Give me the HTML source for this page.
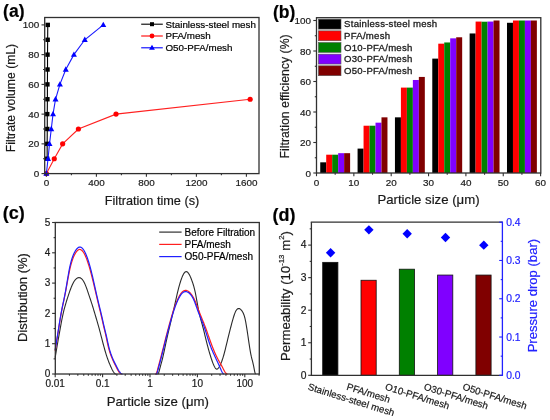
<!DOCTYPE html>
<html><head><meta charset="utf-8"><title>Figure</title>
<style>html,body{margin:0;padding:0;background:#fff;}svg{display:block;font-family:'Liberation Sans', Arial, sans-serif;}</style></head><body>
<svg width="550" height="420" viewBox="0 0 550 420">
<rect width="550" height="420" fill="#fff"/>
<text x="3.10" y="17.00" font-size="17.5" text-anchor="start" fill="#000" font-weight="bold"  stroke="#000" stroke-width="0.2">(a)</text>
<polyline fill="none" stroke="#ff2020" stroke-width="1.1" points="46.40,173.60 54.27,158.73 62.65,143.86 78.40,128.99 116.03,114.12 250.15,99.25"/>
<circle cx="46.40" cy="173.60" r="2.6" fill="#ff0000"/>
<circle cx="54.27" cy="158.73" r="2.6" fill="#ff0000"/>
<circle cx="62.65" cy="143.86" r="2.6" fill="#ff0000"/>
<circle cx="78.40" cy="128.99" r="2.6" fill="#ff0000"/>
<circle cx="116.03" cy="114.12" r="2.6" fill="#ff0000"/>
<circle cx="250.15" cy="99.25" r="2.6" fill="#ff0000"/>
<polyline fill="none" stroke="#000" stroke-width="1.1" points="47.15,158.73 47.15,143.86 47.27,128.99 47.27,114.12 47.40,99.25 47.40,84.38 47.52,69.51 47.52,54.64 47.65,39.77 47.77,24.90"/>
<rect x="44.95" y="156.53" width="4.40" height="4.40" fill="#000" stroke="none" stroke-width="1"/>
<rect x="44.95" y="141.66" width="4.40" height="4.40" fill="#000" stroke="none" stroke-width="1"/>
<rect x="45.07" y="126.79" width="4.40" height="4.40" fill="#000" stroke="none" stroke-width="1"/>
<rect x="45.07" y="111.92" width="4.40" height="4.40" fill="#000" stroke="none" stroke-width="1"/>
<rect x="45.20" y="97.05" width="4.40" height="4.40" fill="#000" stroke="none" stroke-width="1"/>
<rect x="45.20" y="82.18" width="4.40" height="4.40" fill="#000" stroke="none" stroke-width="1"/>
<rect x="45.32" y="67.31" width="4.40" height="4.40" fill="#000" stroke="none" stroke-width="1"/>
<rect x="45.32" y="52.44" width="4.40" height="4.40" fill="#000" stroke="none" stroke-width="1"/>
<rect x="45.45" y="37.57" width="4.40" height="4.40" fill="#000" stroke="none" stroke-width="1"/>
<rect x="45.57" y="22.70" width="4.40" height="4.40" fill="#000" stroke="none" stroke-width="1"/>
<polyline fill="none" stroke="#1a1aff" stroke-width="1.1" points="46.40,173.60 48.02,158.73 49.52,143.86 51.27,128.99 53.02,114.12 55.52,99.25 59.90,84.38 65.78,69.51 73.90,54.64 84.78,39.77 103.28,24.90"/>
<polygon points="46.40,170.40 43.40,175.80 49.40,175.80" fill="#0000ff"/>
<polygon points="48.02,155.53 45.02,160.93 51.02,160.93" fill="#0000ff"/>
<polygon points="49.52,140.66 46.52,146.06 52.52,146.06" fill="#0000ff"/>
<polygon points="51.27,125.79 48.27,131.19 54.27,131.19" fill="#0000ff"/>
<polygon points="53.02,110.92 50.02,116.32 56.02,116.32" fill="#0000ff"/>
<polygon points="55.52,96.05 52.52,101.45 58.52,101.45" fill="#0000ff"/>
<polygon points="59.90,81.18 56.90,86.58 62.90,86.58" fill="#0000ff"/>
<polygon points="65.78,66.31 62.78,71.71 68.78,71.71" fill="#0000ff"/>
<polygon points="73.90,51.44 70.90,56.84 76.90,56.84" fill="#0000ff"/>
<polygon points="84.78,36.57 81.78,41.97 87.78,41.97" fill="#0000ff"/>
<polygon points="103.28,21.70 100.28,27.10 106.28,27.10" fill="#0000ff"/>
<rect x="44.70" y="17.50" width="214.30" height="156.10" fill="none" stroke="#303030" stroke-width="1.3"/>
<line x1="41.50" y1="173.60" x2="44.70" y2="173.60" stroke="#303030" stroke-width="1.1" />
<text x="39.30" y="177.10" font-size="9.9" text-anchor="end" fill="#1a1a1a" font-weight="normal"  stroke="#1a1a1a" stroke-width="0.2">0</text>
<line x1="41.50" y1="143.86" x2="44.70" y2="143.86" stroke="#303030" stroke-width="1.1" />
<text x="39.30" y="147.36" font-size="9.9" text-anchor="end" fill="#1a1a1a" font-weight="normal"  stroke="#1a1a1a" stroke-width="0.2">20</text>
<line x1="41.50" y1="114.12" x2="44.70" y2="114.12" stroke="#303030" stroke-width="1.1" />
<text x="39.30" y="117.62" font-size="9.9" text-anchor="end" fill="#1a1a1a" font-weight="normal"  stroke="#1a1a1a" stroke-width="0.2">40</text>
<line x1="41.50" y1="84.38" x2="44.70" y2="84.38" stroke="#303030" stroke-width="1.1" />
<text x="39.30" y="87.88" font-size="9.9" text-anchor="end" fill="#1a1a1a" font-weight="normal"  stroke="#1a1a1a" stroke-width="0.2">60</text>
<line x1="41.50" y1="54.64" x2="44.70" y2="54.64" stroke="#303030" stroke-width="1.1" />
<text x="39.30" y="58.14" font-size="9.9" text-anchor="end" fill="#1a1a1a" font-weight="normal"  stroke="#1a1a1a" stroke-width="0.2">80</text>
<line x1="41.50" y1="24.90" x2="44.70" y2="24.90" stroke="#303030" stroke-width="1.1" />
<text x="39.30" y="28.40" font-size="9.9" text-anchor="end" fill="#1a1a1a" font-weight="normal"  stroke="#1a1a1a" stroke-width="0.2">100</text>
<line x1="43.00" y1="158.73" x2="44.70" y2="158.73" stroke="#303030" stroke-width="1.1" />
<line x1="43.00" y1="128.99" x2="44.70" y2="128.99" stroke="#303030" stroke-width="1.1" />
<line x1="43.00" y1="99.25" x2="44.70" y2="99.25" stroke="#303030" stroke-width="1.1" />
<line x1="43.00" y1="69.51" x2="44.70" y2="69.51" stroke="#303030" stroke-width="1.1" />
<line x1="43.00" y1="39.77" x2="44.70" y2="39.77" stroke="#303030" stroke-width="1.1" />
<line x1="46.40" y1="173.60" x2="46.40" y2="176.80" stroke="#303030" stroke-width="1.1" />
<text x="46.40" y="186.20" font-size="9.9" text-anchor="middle" fill="#1a1a1a" font-weight="normal"  stroke="#1a1a1a" stroke-width="0.2">0</text>
<line x1="96.40" y1="173.60" x2="96.40" y2="176.80" stroke="#303030" stroke-width="1.1" />
<text x="96.40" y="186.20" font-size="9.9" text-anchor="middle" fill="#1a1a1a" font-weight="normal"  stroke="#1a1a1a" stroke-width="0.2">400</text>
<line x1="146.40" y1="173.60" x2="146.40" y2="176.80" stroke="#303030" stroke-width="1.1" />
<text x="146.40" y="186.20" font-size="9.9" text-anchor="middle" fill="#1a1a1a" font-weight="normal"  stroke="#1a1a1a" stroke-width="0.2">800</text>
<line x1="196.40" y1="173.60" x2="196.40" y2="176.80" stroke="#303030" stroke-width="1.1" />
<text x="196.40" y="186.20" font-size="9.9" text-anchor="middle" fill="#1a1a1a" font-weight="normal"  stroke="#1a1a1a" stroke-width="0.2">1200</text>
<line x1="246.40" y1="173.60" x2="246.40" y2="176.80" stroke="#303030" stroke-width="1.1" />
<text x="246.40" y="186.20" font-size="9.9" text-anchor="middle" fill="#1a1a1a" font-weight="normal"  stroke="#1a1a1a" stroke-width="0.2">1600</text>
<line x1="71.40" y1="173.60" x2="71.40" y2="175.30" stroke="#303030" stroke-width="1.1" />
<line x1="121.40" y1="173.60" x2="121.40" y2="175.30" stroke="#303030" stroke-width="1.1" />
<line x1="171.40" y1="173.60" x2="171.40" y2="175.30" stroke="#303030" stroke-width="1.1" />
<line x1="221.40" y1="173.60" x2="221.40" y2="175.30" stroke="#303030" stroke-width="1.1" />
<text x="152.00" y="204.60" font-size="12.7" text-anchor="middle" fill="#1a1a1a" font-weight="normal"  stroke="#1a1a1a" stroke-width="0.2">Filtration time (s)</text>
<text x="15.00" y="98.00" font-size="12.2" text-anchor="middle" fill="#1a1a1a" font-weight="normal" transform="rotate(-90 15.00 98.00)"  stroke="#1a1a1a" stroke-width="0.2">Filtrate volume (mL)</text>
<line x1="141.20" y1="24.20" x2="162.80" y2="24.20" stroke="#000" stroke-width="1.1" />
<rect x="150.00" y="22.20" width="4.00" height="4.00" fill="#000" stroke="none" stroke-width="1"/>
<text x="165.50" y="27.60" font-size="9.8" text-anchor="start" fill="#000" font-weight="normal"  stroke="#000" stroke-width="0.2">Stainless-steel mesh</text>
<line x1="141.20" y1="36.00" x2="162.80" y2="36.00" stroke="#ff0000" stroke-width="1.1" />
<circle cx="152.0" cy="36.0" r="2.4" fill="#ff0000"/>
<text x="165.50" y="39.40" font-size="9.8" text-anchor="start" fill="#000" font-weight="normal"  stroke="#000" stroke-width="0.2">PFA/mesh</text>
<line x1="141.20" y1="47.80" x2="162.80" y2="47.80" stroke="#0000ff" stroke-width="1.1" />
<polygon points="152.00,44.80 149.10,49.80 154.90,49.80" fill="#0000ff"/>
<text x="165.50" y="51.20" font-size="9.8" text-anchor="start" fill="#000" font-weight="normal"  stroke="#000" stroke-width="0.2">O50-PFA/mesh</text>
<text x="273.00" y="17.60" font-size="17.5" text-anchor="start" fill="#000" font-weight="bold"  stroke="#000" stroke-width="0.2">(b)</text>
<rect x="320.24" y="162.32" width="5.98" height="10.68" fill="#000000" stroke="none" stroke-width="1"/>
<rect x="326.21" y="154.70" width="5.98" height="18.30" fill="#ff0000" stroke="none" stroke-width="1"/>
<rect x="332.19" y="154.70" width="5.98" height="18.30" fill="#008000" stroke="none" stroke-width="1"/>
<rect x="338.16" y="153.18" width="5.98" height="19.82" fill="#8000ff" stroke="none" stroke-width="1"/>
<rect x="344.14" y="153.18" width="5.98" height="19.82" fill="#800000" stroke="none" stroke-width="1"/>
<rect x="357.58" y="148.60" width="5.98" height="24.40" fill="#000000" stroke="none" stroke-width="1"/>
<rect x="363.56" y="125.72" width="5.98" height="47.28" fill="#ff0000" stroke="none" stroke-width="1"/>
<rect x="369.54" y="125.72" width="5.98" height="47.28" fill="#008000" stroke="none" stroke-width="1"/>
<rect x="375.51" y="122.68" width="5.98" height="50.32" fill="#8000ff" stroke="none" stroke-width="1"/>
<rect x="381.49" y="117.34" width="5.98" height="55.66" fill="#800000" stroke="none" stroke-width="1"/>
<rect x="394.94" y="117.34" width="5.98" height="55.66" fill="#000000" stroke="none" stroke-width="1"/>
<rect x="400.91" y="87.60" width="5.98" height="85.40" fill="#ff0000" stroke="none" stroke-width="1"/>
<rect x="406.89" y="87.60" width="5.98" height="85.40" fill="#008000" stroke="none" stroke-width="1"/>
<rect x="412.86" y="79.98" width="5.98" height="93.02" fill="#8000ff" stroke="none" stroke-width="1"/>
<rect x="418.84" y="76.93" width="5.98" height="96.07" fill="#800000" stroke="none" stroke-width="1"/>
<rect x="432.28" y="58.62" width="5.98" height="114.38" fill="#000000" stroke="none" stroke-width="1"/>
<rect x="438.26" y="43.68" width="5.98" height="129.32" fill="#ff0000" stroke="none" stroke-width="1"/>
<rect x="444.24" y="42.46" width="5.98" height="130.54" fill="#008000" stroke="none" stroke-width="1"/>
<rect x="450.21" y="38.34" width="5.98" height="134.66" fill="#8000ff" stroke="none" stroke-width="1"/>
<rect x="456.19" y="37.28" width="5.98" height="135.72" fill="#800000" stroke="none" stroke-width="1"/>
<rect x="469.63" y="33.46" width="5.98" height="139.54" fill="#000000" stroke="none" stroke-width="1"/>
<rect x="475.61" y="21.57" width="5.98" height="151.43" fill="#ff0000" stroke="none" stroke-width="1"/>
<rect x="481.59" y="21.72" width="5.98" height="151.28" fill="#008000" stroke="none" stroke-width="1"/>
<rect x="487.56" y="21.57" width="5.98" height="151.43" fill="#8000ff" stroke="none" stroke-width="1"/>
<rect x="493.54" y="20.50" width="5.98" height="152.50" fill="#800000" stroke="none" stroke-width="1"/>
<rect x="506.99" y="22.79" width="5.98" height="150.21" fill="#000000" stroke="none" stroke-width="1"/>
<rect x="512.96" y="20.50" width="5.98" height="152.50" fill="#ff0000" stroke="none" stroke-width="1"/>
<rect x="518.94" y="20.50" width="5.98" height="152.50" fill="#008000" stroke="none" stroke-width="1"/>
<rect x="524.91" y="20.50" width="5.98" height="152.50" fill="#8000ff" stroke="none" stroke-width="1"/>
<rect x="530.89" y="20.50" width="5.98" height="152.50" fill="#800000" stroke="none" stroke-width="1"/>
<rect x="316.50" y="17.70" width="224.30" height="155.30" fill="none" stroke="#303030" stroke-width="1.3"/>
<line x1="313.30" y1="173.00" x2="316.50" y2="173.00" stroke="#303030" stroke-width="1.1" />
<text x="311.10" y="176.50" font-size="9.9" text-anchor="end" fill="#1a1a1a" font-weight="normal"  stroke="#1a1a1a" stroke-width="0.2">0</text>
<line x1="313.30" y1="142.50" x2="316.50" y2="142.50" stroke="#303030" stroke-width="1.1" />
<text x="311.10" y="146.00" font-size="9.9" text-anchor="end" fill="#1a1a1a" font-weight="normal"  stroke="#1a1a1a" stroke-width="0.2">20</text>
<line x1="313.30" y1="112.00" x2="316.50" y2="112.00" stroke="#303030" stroke-width="1.1" />
<text x="311.10" y="115.50" font-size="9.9" text-anchor="end" fill="#1a1a1a" font-weight="normal"  stroke="#1a1a1a" stroke-width="0.2">40</text>
<line x1="313.30" y1="81.50" x2="316.50" y2="81.50" stroke="#303030" stroke-width="1.1" />
<text x="311.10" y="85.00" font-size="9.9" text-anchor="end" fill="#1a1a1a" font-weight="normal"  stroke="#1a1a1a" stroke-width="0.2">60</text>
<line x1="313.30" y1="51.00" x2="316.50" y2="51.00" stroke="#303030" stroke-width="1.1" />
<text x="311.10" y="54.50" font-size="9.9" text-anchor="end" fill="#1a1a1a" font-weight="normal"  stroke="#1a1a1a" stroke-width="0.2">80</text>
<line x1="313.30" y1="20.50" x2="316.50" y2="20.50" stroke="#303030" stroke-width="1.1" />
<text x="311.10" y="24.00" font-size="9.9" text-anchor="end" fill="#1a1a1a" font-weight="normal"  stroke="#1a1a1a" stroke-width="0.2">100</text>
<line x1="314.80" y1="157.75" x2="316.50" y2="157.75" stroke="#303030" stroke-width="1.1" />
<line x1="314.80" y1="127.25" x2="316.50" y2="127.25" stroke="#303030" stroke-width="1.1" />
<line x1="314.80" y1="96.75" x2="316.50" y2="96.75" stroke="#303030" stroke-width="1.1" />
<line x1="314.80" y1="66.25" x2="316.50" y2="66.25" stroke="#303030" stroke-width="1.1" />
<line x1="314.80" y1="35.75" x2="316.50" y2="35.75" stroke="#303030" stroke-width="1.1" />
<line x1="316.50" y1="173.00" x2="316.50" y2="176.20" stroke="#303030" stroke-width="1.1" />
<text x="316.50" y="185.60" font-size="9.9" text-anchor="middle" fill="#1a1a1a" font-weight="normal"  stroke="#1a1a1a" stroke-width="0.2">0</text>
<line x1="353.85" y1="173.00" x2="353.85" y2="176.20" stroke="#303030" stroke-width="1.1" />
<text x="353.85" y="185.60" font-size="9.9" text-anchor="middle" fill="#1a1a1a" font-weight="normal"  stroke="#1a1a1a" stroke-width="0.2">10</text>
<line x1="391.20" y1="173.00" x2="391.20" y2="176.20" stroke="#303030" stroke-width="1.1" />
<text x="391.20" y="185.60" font-size="9.9" text-anchor="middle" fill="#1a1a1a" font-weight="normal"  stroke="#1a1a1a" stroke-width="0.2">20</text>
<line x1="428.55" y1="173.00" x2="428.55" y2="176.20" stroke="#303030" stroke-width="1.1" />
<text x="428.55" y="185.60" font-size="9.9" text-anchor="middle" fill="#1a1a1a" font-weight="normal"  stroke="#1a1a1a" stroke-width="0.2">30</text>
<line x1="465.90" y1="173.00" x2="465.90" y2="176.20" stroke="#303030" stroke-width="1.1" />
<text x="465.90" y="185.60" font-size="9.9" text-anchor="middle" fill="#1a1a1a" font-weight="normal"  stroke="#1a1a1a" stroke-width="0.2">40</text>
<line x1="503.25" y1="173.00" x2="503.25" y2="176.20" stroke="#303030" stroke-width="1.1" />
<text x="503.25" y="185.60" font-size="9.9" text-anchor="middle" fill="#1a1a1a" font-weight="normal"  stroke="#1a1a1a" stroke-width="0.2">50</text>
<line x1="540.60" y1="173.00" x2="540.60" y2="176.20" stroke="#303030" stroke-width="1.1" />
<text x="540.60" y="185.60" font-size="9.9" text-anchor="middle" fill="#1a1a1a" font-weight="normal"  stroke="#1a1a1a" stroke-width="0.2">60</text>
<line x1="335.18" y1="173.00" x2="335.18" y2="174.70" stroke="#303030" stroke-width="1.1" />
<line x1="372.52" y1="173.00" x2="372.52" y2="174.70" stroke="#303030" stroke-width="1.1" />
<line x1="409.88" y1="173.00" x2="409.88" y2="174.70" stroke="#303030" stroke-width="1.1" />
<line x1="447.23" y1="173.00" x2="447.23" y2="174.70" stroke="#303030" stroke-width="1.1" />
<line x1="484.57" y1="173.00" x2="484.57" y2="174.70" stroke="#303030" stroke-width="1.1" />
<line x1="521.92" y1="173.00" x2="521.92" y2="174.70" stroke="#303030" stroke-width="1.1" />
<text x="428.50" y="204.00" font-size="13.2" text-anchor="middle" fill="#1a1a1a" font-weight="normal"  stroke="#1a1a1a" stroke-width="0.2">Particle size (μm)</text>
<text x="288.90" y="96.40" font-size="12.3" text-anchor="middle" fill="#1a1a1a" font-weight="normal" transform="rotate(-90 288.90 96.40)"  stroke="#1a1a1a" stroke-width="0.2">Filtration efficiency (%)</text>
<rect x="318.40" y="19.20" width="22.60" height="9.90" fill="#000000" stroke="#555" stroke-width="0.6"/>
<text x="344.10" y="27.20" font-size="9.6" text-anchor="start" fill="#1a1a1a" font-weight="normal" letter-spacing="0.24" stroke="#1a1a1a" stroke-width="0.3">Stainless-steel mesh</text>
<rect x="318.40" y="30.85" width="22.60" height="9.90" fill="#ff0000" stroke="#555" stroke-width="0.6"/>
<text x="344.10" y="38.85" font-size="9.6" text-anchor="start" fill="#1a1a1a" font-weight="normal" letter-spacing="0.24" stroke="#1a1a1a" stroke-width="0.3">PFA/mesh</text>
<rect x="318.40" y="42.50" width="22.60" height="9.90" fill="#008000" stroke="#555" stroke-width="0.6"/>
<text x="344.10" y="50.50" font-size="9.6" text-anchor="start" fill="#1a1a1a" font-weight="normal" letter-spacing="0.24" stroke="#1a1a1a" stroke-width="0.3">O10-PFA/mesh</text>
<rect x="318.40" y="54.15" width="22.60" height="9.90" fill="#8000ff" stroke="#555" stroke-width="0.6"/>
<text x="344.10" y="62.15" font-size="9.6" text-anchor="start" fill="#1a1a1a" font-weight="normal" letter-spacing="0.24" stroke="#1a1a1a" stroke-width="0.3">O30-PFA/mesh</text>
<rect x="318.40" y="65.80" width="22.60" height="9.90" fill="#800000" stroke="#555" stroke-width="0.6"/>
<text x="344.10" y="73.80" font-size="9.6" text-anchor="start" fill="#1a1a1a" font-weight="normal" letter-spacing="0.24" stroke="#1a1a1a" stroke-width="0.3">O50-PFA/mesh</text>
<text x="2.80" y="218.80" font-size="18" text-anchor="start" fill="#000" font-weight="bold"  stroke="#000" stroke-width="0.2">(c)</text>
<path d="M55.20,357.33 L55.70,354.36 L56.20,351.40 L56.70,348.45 L57.20,345.51 L57.70,342.60 L58.20,339.73 L58.70,336.88 L59.20,334.08 L59.70,331.30 L60.20,328.55 L60.70,325.82 L61.20,323.12 L61.70,320.48 L62.20,317.93 L62.70,315.52 L63.20,313.28 L63.70,311.18 L64.20,309.22 L64.70,307.35 L65.20,305.57 L65.70,303.84 L66.20,302.16 L66.70,300.52 L67.20,298.92 L67.70,297.35 L68.20,295.82 L68.70,294.32 L69.20,292.86 L69.70,291.43 L70.20,290.04 L70.70,288.70 L71.20,287.42 L71.70,286.21 L72.20,285.05 L72.70,283.97 L73.20,282.98 L73.70,282.06 L74.20,281.24 L74.70,280.50 L75.20,279.85 L75.70,279.29 L76.20,278.82 L76.70,278.43 L77.20,278.12 L77.70,277.89 L78.20,277.73 L78.70,277.65 L79.20,277.65 L79.70,277.72 L80.20,277.87 L80.70,278.11 L81.20,278.43 L81.70,278.85 L82.20,279.37 L82.70,279.98 L83.20,280.70 L83.70,281.53 L84.20,282.46 L84.70,283.51 L85.20,284.65 L85.70,285.88 L86.20,287.17 L86.70,288.53 L87.20,289.93 L87.70,291.38 L88.20,292.85 L88.70,294.33 L89.20,295.81 L89.70,297.30 L90.20,298.78 L90.70,300.28 L91.20,301.80 L91.70,303.33 L92.20,304.90 L92.70,306.50 L93.20,308.14 L93.70,309.79 L94.20,311.47 L94.70,313.15 L95.20,314.84 L95.70,316.53 L96.20,318.22 L96.70,319.92 L97.20,321.63 L97.70,323.36 L98.20,325.11 L98.70,326.90 L99.20,328.72 L99.70,330.58 L100.20,332.46 L100.70,334.37 L101.20,336.29 L101.70,338.23 L102.20,340.17 L102.70,342.10 L103.20,344.01 L103.70,345.89 L104.20,347.73 L104.70,349.52 L105.20,351.26 L105.70,352.94 L106.20,354.57 L106.70,356.12 L107.20,357.61 L107.70,359.03 L108.20,360.39 L108.70,361.69 L109.20,362.94 L109.70,364.15 L110.20,365.32 L110.70,366.45 L111.20,367.55 L111.70,368.63 L112.20,369.66 L112.70,370.62 L113.20,371.50 L113.70,372.28 L114.20,372.94 L114.70,373.45 L115.20,373.81 L115.70,373.98 M157.80,374.00 L158.30,373.54 L158.80,372.35 L159.30,370.66 L159.80,368.72 L160.30,366.79 L160.80,364.94 L161.30,363.11 L161.80,361.27 L162.30,359.35 L162.80,357.31 L163.30,355.14 L163.80,352.88 L164.30,350.54 L164.80,348.17 L165.30,345.79 L165.80,343.42 L166.30,341.10 L166.80,338.84 L167.30,336.62 L167.80,334.44 L168.30,332.30 L168.80,330.18 L169.30,328.09 L169.80,326.01 L170.30,323.95 L170.80,321.88 L171.30,319.80 L171.80,317.71 L172.30,315.60 L172.80,313.46 L173.30,311.28 L173.80,309.06 L174.30,306.81 L174.80,304.54 L175.30,302.27 L175.80,300.01 L176.30,297.78 L176.80,295.58 L177.30,293.44 L177.80,291.37 L178.30,289.37 L178.80,287.46 L179.30,285.63 L179.80,283.88 L180.30,282.23 L180.80,280.67 L181.30,279.20 L181.80,277.84 L182.30,276.59 L182.80,275.46 L183.30,274.46 L183.80,273.59 L184.30,272.87 L184.80,272.30 L185.30,271.89 L185.80,271.65 L186.30,271.59 L186.80,271.70 L187.30,271.99 L187.80,272.44 L188.30,273.03 L188.80,273.76 L189.30,274.61 L189.80,275.57 L190.30,276.64 L190.80,277.80 L191.30,279.03 L191.80,280.34 L192.30,281.70 L192.80,283.16 L193.30,284.73 L193.80,286.44 L194.30,288.32 L194.80,290.38 L195.30,292.66 L195.80,295.16 L196.30,297.82 L196.80,300.57 L197.30,303.35 L197.80,306.11 L198.30,308.77 L198.80,311.28 L199.30,313.58 L199.80,315.71 L200.30,317.69 L200.80,319.57 L201.30,321.38 L201.80,323.17 L202.30,324.96 L202.80,326.80 L203.30,328.72 L203.80,330.69 L204.30,332.71 L204.80,334.76 L205.30,336.81 L205.80,338.86 L206.30,340.89 L206.80,342.88 L207.30,344.82 L207.80,346.71 L208.30,348.55 L208.80,350.34 L209.30,352.08 L209.80,353.77 L210.30,355.41 L210.80,357.00 L211.30,358.55 L211.80,360.04 L212.30,361.47 L212.80,362.83 L213.30,364.10 L213.80,365.27 L214.30,366.32 L214.80,367.25 L215.30,368.03 L215.80,368.62 L216.30,369.00 L216.80,369.15 L217.30,369.05 L217.80,368.71 L218.30,368.18 L218.80,367.49 L219.30,366.67 L219.80,365.74 L220.30,364.74 L220.80,363.65 L221.30,362.47 L221.80,361.19 L222.30,359.80 L222.80,358.31 L223.30,356.70 L223.80,354.98 L224.30,353.15 L224.80,351.25 L225.30,349.27 L225.80,347.24 L226.30,345.18 L226.80,343.10 L227.30,341.01 L227.80,338.93 L228.30,336.88 L228.80,334.85 L229.30,332.85 L229.80,330.87 L230.30,328.91 L230.80,326.99 L231.30,325.09 L231.80,323.23 L232.30,321.39 L232.80,319.60 L233.30,317.88 L233.80,316.25 L234.30,314.73 L234.80,313.35 L235.30,312.13 L235.80,311.09 L236.30,310.24 L236.80,309.57 L237.30,309.08 L237.80,308.76 L238.30,308.58 L238.80,308.53 L239.30,308.62 L239.80,308.82 L240.30,309.13 L240.80,309.55 L241.30,310.08 L241.80,310.71 L242.30,311.43 L242.80,312.26 L243.30,313.25 L243.80,314.46 L244.30,315.93 L244.80,317.73 L245.30,319.90 L245.80,322.44 L246.30,325.28 L246.80,328.36 L247.30,331.61 L247.80,334.98 L248.30,338.40 L248.80,341.81 L249.30,345.15 L249.80,348.34 L250.30,351.32 L250.80,354.04 L251.30,356.43 L251.80,358.52 L252.30,360.45 L252.80,362.40 L253.30,364.51 L253.80,366.95 L254.30,369.65 L254.80,372.10 L255.30,373.70 " fill="none" stroke="#2a2a2a" stroke-width="1.1" stroke-linejoin="round" stroke-linecap="round"/>
<path d="M55.20,350.37 L55.70,347.29 L56.20,344.20 L56.70,341.09 L57.20,337.94 L57.70,334.76 L58.20,331.56 L58.70,328.37 L59.20,325.19 L59.70,322.06 L60.20,319.02 L60.70,316.09 L61.20,313.31 L61.70,310.66 L62.20,308.13 L62.70,305.70 L63.20,303.33 L63.70,300.99 L64.20,298.63 L64.70,296.21 L65.20,293.69 L65.70,291.06 L66.20,288.36 L66.70,285.61 L67.20,282.85 L67.70,280.10 L68.20,277.41 L68.70,274.79 L69.20,272.28 L69.70,269.92 L70.20,267.72 L70.70,265.70 L71.20,263.83 L71.70,262.12 L72.20,260.55 L72.70,259.12 L73.20,257.80 L73.70,256.60 L74.20,255.51 L74.70,254.51 L75.20,253.59 L75.70,252.76 L76.20,252.01 L76.70,251.36 L77.20,250.79 L77.70,250.33 L78.20,249.96 L78.70,249.69 L79.20,249.52 L79.70,249.46 L80.20,249.51 L80.70,249.67 L81.20,249.93 L81.70,250.29 L82.20,250.75 L82.70,251.31 L83.20,251.97 L83.70,252.72 L84.20,253.57 L84.70,254.51 L85.20,255.54 L85.70,256.66 L86.20,257.86 L86.70,259.14 L87.20,260.50 L87.70,261.94 L88.20,263.45 L88.70,265.04 L89.20,266.69 L89.70,268.40 L90.20,270.18 L90.70,272.02 L91.20,273.91 L91.70,275.85 L92.20,277.83 L92.70,279.84 L93.20,281.89 L93.70,283.96 L94.20,286.04 L94.70,288.15 L95.20,290.28 L95.70,292.42 L96.20,294.57 L96.70,296.72 L97.20,298.88 L97.70,301.02 L98.20,303.14 L98.70,305.22 L99.20,307.26 L99.70,309.29 L100.20,311.33 L100.70,313.40 L101.20,315.52 L101.70,317.72 L102.20,319.96 L102.70,322.21 L103.20,324.41 L103.70,326.54 L104.20,328.59 L104.70,330.59 L105.20,332.63 L105.70,334.77 L106.20,337.06 L106.70,339.44 L107.20,341.85 L107.70,344.19 L108.20,346.37 L108.70,348.35 L109.20,350.16 L109.70,351.81 L110.20,353.34 L110.70,354.75 L111.20,356.08 L111.70,357.34 L112.20,358.55 L112.70,359.71 L113.20,360.82 L113.70,361.90 L114.20,362.95 L114.70,363.98 L115.20,365.01 L115.70,366.02 L116.20,367.04 L116.70,368.04 L117.20,369.00 L117.70,369.93 L118.20,370.79 L118.70,371.59 L119.20,372.29 L119.70,372.89 L120.20,373.38 L120.70,373.74 L121.20,373.95 M155.70,374.00 L156.20,373.59 L156.70,372.51 L157.20,370.94 L157.70,369.10 L158.20,367.17 L158.70,365.28 L159.20,363.41 L159.70,361.55 L160.20,359.68 L160.70,357.79 L161.20,355.87 L161.70,353.93 L162.20,351.97 L162.70,350.00 L163.20,348.03 L163.70,346.04 L164.20,344.07 L164.70,342.09 L165.20,340.13 L165.70,338.19 L166.20,336.25 L166.70,334.33 L167.20,332.42 L167.70,330.53 L168.20,328.66 L168.70,326.80 L169.20,324.96 L169.70,323.14 L170.20,321.35 L170.70,319.58 L171.20,317.84 L171.70,316.14 L172.20,314.48 L172.70,312.86 L173.20,311.28 L173.70,309.75 L174.20,308.27 L174.70,306.84 L175.20,305.46 L175.70,304.12 L176.20,302.85 L176.70,301.62 L177.20,300.44 L177.70,299.32 L178.20,298.26 L178.70,297.25 L179.20,296.30 L179.70,295.42 L180.20,294.60 L180.70,293.85 L181.20,293.17 L181.70,292.56 L182.20,292.03 L182.70,291.58 L183.20,291.19 L183.70,290.89 L184.20,290.65 L184.70,290.49 L185.20,290.39 L185.70,290.37 L186.20,290.42 L186.70,290.54 L187.20,290.72 L187.70,290.96 L188.20,291.26 L188.70,291.62 L189.20,292.03 L189.70,292.50 L190.20,293.01 L190.70,293.56 L191.20,294.17 L191.70,294.84 L192.20,295.56 L192.70,296.35 L193.20,297.20 L193.70,298.13 L194.20,299.13 L194.70,300.21 L195.20,301.36 L195.70,302.58 L196.20,303.84 L196.70,305.15 L197.20,306.48 L197.70,307.82 L198.20,309.16 L198.70,310.49 L199.20,311.80 L199.70,313.07 L200.20,314.32 L200.70,315.55 L201.20,316.77 L201.70,317.98 L202.20,319.19 L202.70,320.40 L203.20,321.62 L203.70,322.85 L204.20,324.10 L204.70,325.38 L205.20,326.69 L205.70,328.04 L206.20,329.41 L206.70,330.81 L207.20,332.23 L207.70,333.66 L208.20,335.10 L208.70,336.54 L209.20,337.98 L209.70,339.40 L210.20,340.82 L210.70,342.21 L211.20,343.58 L211.70,344.92 L212.20,346.24 L212.70,347.53 L213.20,348.79 L213.70,350.02 L214.20,351.22 L214.70,352.39 L215.20,353.53 L215.70,354.64 L216.20,355.71 L216.70,356.75 L217.20,357.76 L217.70,358.74 L218.20,359.68 L218.70,360.60 L219.20,361.49 L219.70,362.38 L220.20,363.25 L220.70,364.13 L221.20,365.01 L221.70,365.90 L222.20,366.81 L222.70,367.75 L223.20,368.72 L223.70,369.69 L224.20,370.64 L224.70,371.53 L225.20,372.33 L225.70,373.01 L226.20,373.54 L226.70,373.88 L227.20,374.00 " fill="none" stroke="#ff2020" stroke-width="1.2" stroke-linejoin="round" stroke-linecap="round"/>
<path d="M55.20,349.76 L55.70,346.67 L56.20,343.58 L56.70,340.46 L57.20,337.31 L57.70,334.12 L58.20,330.92 L58.70,327.73 L59.20,324.56 L59.70,321.45 L60.20,318.43 L60.70,315.52 L61.20,312.76 L61.70,310.14 L62.20,307.63 L62.70,305.22 L63.20,302.89 L63.70,300.57 L64.20,298.21 L64.70,295.73 L65.20,293.09 L65.70,290.30 L66.20,287.39 L66.70,284.41 L67.20,281.40 L67.70,278.41 L68.20,275.48 L68.70,272.65 L69.20,269.97 L69.70,267.47 L70.20,265.18 L70.70,263.10 L71.20,261.20 L71.70,259.49 L72.20,257.93 L72.70,256.52 L73.20,255.24 L73.70,254.09 L74.20,253.03 L74.70,252.07 L75.20,251.19 L75.70,250.38 L76.20,249.66 L76.70,249.01 L77.20,248.45 L77.70,247.98 L78.20,247.61 L78.70,247.32 L79.20,247.13 L79.70,247.05 L80.20,247.06 L80.70,247.18 L81.20,247.41 L81.70,247.73 L82.20,248.15 L82.70,248.67 L83.20,249.29 L83.70,250.00 L84.20,250.80 L84.70,251.70 L85.20,252.69 L85.70,253.77 L86.20,254.94 L86.70,256.19 L87.20,257.52 L87.70,258.94 L88.20,260.44 L88.70,262.02 L89.20,263.68 L89.70,265.41 L90.20,267.21 L90.70,269.08 L91.20,271.02 L91.70,273.03 L92.20,275.09 L92.70,277.20 L93.20,279.36 L93.70,281.56 L94.20,283.79 L94.70,286.05 L95.20,288.31 L95.70,290.57 L96.20,292.81 L96.70,295.03 L97.20,297.21 L97.70,299.36 L98.20,301.48 L98.70,303.57 L99.20,305.63 L99.70,307.66 L100.20,309.69 L100.70,311.73 L101.20,313.81 L101.70,315.96 L102.20,318.16 L102.70,320.40 L103.20,322.64 L103.70,324.84 L104.20,326.97 L104.70,329.02 L105.20,331.04 L105.70,333.09 L106.20,335.22 L106.70,337.44 L107.20,339.73 L107.70,342.02 L108.20,344.24 L108.70,346.34 L109.20,348.28 L109.70,350.08 L110.20,351.74 L110.70,353.29 L111.20,354.73 L111.70,356.08 L112.20,357.36 L112.70,358.56 L113.20,359.70 L113.70,360.80 L114.20,361.85 L114.70,362.87 L115.20,363.86 L115.70,364.84 L116.20,365.82 L116.70,366.80 L117.20,367.76 L117.70,368.71 L118.20,369.62 L118.70,370.48 L119.20,371.27 L119.70,371.99 L120.20,372.62 L120.70,373.15 L121.20,373.57 L121.70,373.85 L122.20,373.99 M156.30,374.00 L156.80,373.55 L157.30,372.36 L157.80,370.67 L158.30,368.73 L158.80,366.77 L159.30,364.87 L159.80,363.01 L160.30,361.17 L160.80,359.30 L161.30,357.40 L161.80,355.45 L162.30,353.45 L162.80,351.44 L163.30,349.40 L163.80,347.36 L164.30,345.32 L164.80,343.29 L165.30,341.29 L165.80,339.31 L166.30,337.36 L166.80,335.43 L167.30,333.53 L167.80,331.64 L168.30,329.76 L168.80,327.91 L169.30,326.06 L169.80,324.23 L170.30,322.41 L170.80,320.62 L171.30,318.86 L171.80,317.13 L172.30,315.44 L172.80,313.80 L173.30,312.21 L173.80,310.67 L174.30,309.19 L174.80,307.77 L175.30,306.41 L175.80,305.10 L176.30,303.84 L176.80,302.64 L177.30,301.48 L177.80,300.37 L178.30,299.31 L178.80,298.30 L179.30,297.35 L179.80,296.45 L180.30,295.63 L180.80,294.87 L181.30,294.19 L181.80,293.59 L182.30,293.08 L182.80,292.64 L183.30,292.29 L183.80,292.01 L184.30,291.80 L184.80,291.66 L185.30,291.59 L185.80,291.59 L186.30,291.64 L186.80,291.76 L187.30,291.94 L187.80,292.18 L188.30,292.47 L188.80,292.83 L189.30,293.24 L189.80,293.70 L190.30,294.23 L190.80,294.81 L191.30,295.46 L191.80,296.18 L192.30,296.98 L192.80,297.87 L193.30,298.84 L193.80,299.91 L194.30,301.09 L194.80,302.35 L195.30,303.68 L195.80,305.07 L196.30,306.49 L196.80,307.92 L197.30,309.34 L197.80,310.73 L198.30,312.08 L198.80,313.38 L199.30,314.64 L199.80,315.87 L200.30,317.08 L200.80,318.28 L201.30,319.48 L201.80,320.70 L202.30,321.93 L202.80,323.20 L203.30,324.51 L203.80,325.87 L204.30,327.29 L204.80,328.77 L205.30,330.30 L205.80,331.86 L206.30,333.44 L206.80,335.04 L207.30,336.63 L207.80,338.22 L208.30,339.78 L208.80,341.30 L209.30,342.78 L209.80,344.20 L210.30,345.57 L210.80,346.89 L211.30,348.17 L211.80,349.40 L212.30,350.60 L212.80,351.77 L213.30,352.91 L213.80,354.03 L214.30,355.12 L214.80,356.21 L215.30,357.27 L215.80,358.34 L216.30,359.39 L216.80,360.45 L217.30,361.51 L217.80,362.58 L218.30,363.66 L218.80,364.76 L219.30,365.87 L219.80,367.01 L220.30,368.18 L220.80,369.35 L221.30,370.50 L221.80,371.57 L222.30,372.50 L222.80,373.25 L223.30,373.76 L223.80,373.99 " fill="none" stroke="#2020ff" stroke-width="1.2" stroke-linejoin="round" stroke-linecap="round"/>
<rect x="55.30" y="222.50" width="204.00" height="151.50" fill="none" stroke="#303030" stroke-width="1.3"/>
<line x1="52.10" y1="374.00" x2="55.30" y2="374.00" stroke="#303030" stroke-width="1.1" />
<text x="50.30" y="377.30" font-size="10" text-anchor="end" fill="#1a1a1a" font-weight="normal"  stroke="#1a1a1a" stroke-width="0.2">0</text>
<line x1="52.10" y1="343.70" x2="55.30" y2="343.70" stroke="#303030" stroke-width="1.1" />
<text x="50.30" y="347.00" font-size="10" text-anchor="end" fill="#1a1a1a" font-weight="normal"  stroke="#1a1a1a" stroke-width="0.2">1</text>
<line x1="52.10" y1="313.40" x2="55.30" y2="313.40" stroke="#303030" stroke-width="1.1" />
<text x="50.30" y="316.70" font-size="10" text-anchor="end" fill="#1a1a1a" font-weight="normal"  stroke="#1a1a1a" stroke-width="0.2">2</text>
<line x1="52.10" y1="283.10" x2="55.30" y2="283.10" stroke="#303030" stroke-width="1.1" />
<text x="50.30" y="286.40" font-size="10" text-anchor="end" fill="#1a1a1a" font-weight="normal"  stroke="#1a1a1a" stroke-width="0.2">3</text>
<line x1="52.10" y1="252.80" x2="55.30" y2="252.80" stroke="#303030" stroke-width="1.1" />
<text x="50.30" y="256.10" font-size="10" text-anchor="end" fill="#1a1a1a" font-weight="normal"  stroke="#1a1a1a" stroke-width="0.2">4</text>
<line x1="52.10" y1="222.50" x2="55.30" y2="222.50" stroke="#303030" stroke-width="1.1" />
<text x="50.30" y="225.80" font-size="10" text-anchor="end" fill="#1a1a1a" font-weight="normal"  stroke="#1a1a1a" stroke-width="0.2">5</text>
<line x1="53.60" y1="358.85" x2="55.30" y2="358.85" stroke="#303030" stroke-width="1.1" />
<line x1="53.60" y1="328.55" x2="55.30" y2="328.55" stroke="#303030" stroke-width="1.1" />
<line x1="53.60" y1="298.25" x2="55.30" y2="298.25" stroke="#303030" stroke-width="1.1" />
<line x1="53.60" y1="267.95" x2="55.30" y2="267.95" stroke="#303030" stroke-width="1.1" />
<line x1="53.60" y1="237.65" x2="55.30" y2="237.65" stroke="#303030" stroke-width="1.1" />
<line x1="55.20" y1="374.00" x2="55.20" y2="377.20" stroke="#303030" stroke-width="1.1" />
<text x="55.20" y="386.60" font-size="10" text-anchor="middle" fill="#1a1a1a" font-weight="normal"  stroke="#1a1a1a" stroke-width="0.2">0.01</text>
<line x1="69.47" y1="374.00" x2="69.47" y2="375.70" stroke="#303030" stroke-width="1.1" />
<line x1="77.82" y1="374.00" x2="77.82" y2="375.70" stroke="#303030" stroke-width="1.1" />
<line x1="83.74" y1="374.00" x2="83.74" y2="375.70" stroke="#303030" stroke-width="1.1" />
<line x1="88.33" y1="374.00" x2="88.33" y2="375.70" stroke="#303030" stroke-width="1.1" />
<line x1="92.08" y1="374.00" x2="92.08" y2="375.70" stroke="#303030" stroke-width="1.1" />
<line x1="95.26" y1="374.00" x2="95.26" y2="375.70" stroke="#303030" stroke-width="1.1" />
<line x1="98.01" y1="374.00" x2="98.01" y2="375.70" stroke="#303030" stroke-width="1.1" />
<line x1="100.43" y1="374.00" x2="100.43" y2="375.70" stroke="#303030" stroke-width="1.1" />
<line x1="102.60" y1="374.00" x2="102.60" y2="377.20" stroke="#303030" stroke-width="1.1" />
<text x="102.60" y="386.60" font-size="10" text-anchor="middle" fill="#1a1a1a" font-weight="normal"  stroke="#1a1a1a" stroke-width="0.2">0.1</text>
<line x1="116.87" y1="374.00" x2="116.87" y2="375.70" stroke="#303030" stroke-width="1.1" />
<line x1="125.22" y1="374.00" x2="125.22" y2="375.70" stroke="#303030" stroke-width="1.1" />
<line x1="131.14" y1="374.00" x2="131.14" y2="375.70" stroke="#303030" stroke-width="1.1" />
<line x1="135.73" y1="374.00" x2="135.73" y2="375.70" stroke="#303030" stroke-width="1.1" />
<line x1="139.48" y1="374.00" x2="139.48" y2="375.70" stroke="#303030" stroke-width="1.1" />
<line x1="142.66" y1="374.00" x2="142.66" y2="375.70" stroke="#303030" stroke-width="1.1" />
<line x1="145.41" y1="374.00" x2="145.41" y2="375.70" stroke="#303030" stroke-width="1.1" />
<line x1="147.83" y1="374.00" x2="147.83" y2="375.70" stroke="#303030" stroke-width="1.1" />
<line x1="150.00" y1="374.00" x2="150.00" y2="377.20" stroke="#303030" stroke-width="1.1" />
<text x="150.00" y="386.60" font-size="10" text-anchor="middle" fill="#1a1a1a" font-weight="normal"  stroke="#1a1a1a" stroke-width="0.2">1</text>
<line x1="164.27" y1="374.00" x2="164.27" y2="375.70" stroke="#303030" stroke-width="1.1" />
<line x1="172.62" y1="374.00" x2="172.62" y2="375.70" stroke="#303030" stroke-width="1.1" />
<line x1="178.54" y1="374.00" x2="178.54" y2="375.70" stroke="#303030" stroke-width="1.1" />
<line x1="183.13" y1="374.00" x2="183.13" y2="375.70" stroke="#303030" stroke-width="1.1" />
<line x1="186.88" y1="374.00" x2="186.88" y2="375.70" stroke="#303030" stroke-width="1.1" />
<line x1="190.06" y1="374.00" x2="190.06" y2="375.70" stroke="#303030" stroke-width="1.1" />
<line x1="192.81" y1="374.00" x2="192.81" y2="375.70" stroke="#303030" stroke-width="1.1" />
<line x1="195.23" y1="374.00" x2="195.23" y2="375.70" stroke="#303030" stroke-width="1.1" />
<line x1="197.40" y1="374.00" x2="197.40" y2="377.20" stroke="#303030" stroke-width="1.1" />
<text x="197.40" y="386.60" font-size="10" text-anchor="middle" fill="#1a1a1a" font-weight="normal"  stroke="#1a1a1a" stroke-width="0.2">10</text>
<line x1="211.67" y1="374.00" x2="211.67" y2="375.70" stroke="#303030" stroke-width="1.1" />
<line x1="220.02" y1="374.00" x2="220.02" y2="375.70" stroke="#303030" stroke-width="1.1" />
<line x1="225.94" y1="374.00" x2="225.94" y2="375.70" stroke="#303030" stroke-width="1.1" />
<line x1="230.53" y1="374.00" x2="230.53" y2="375.70" stroke="#303030" stroke-width="1.1" />
<line x1="234.28" y1="374.00" x2="234.28" y2="375.70" stroke="#303030" stroke-width="1.1" />
<line x1="237.46" y1="374.00" x2="237.46" y2="375.70" stroke="#303030" stroke-width="1.1" />
<line x1="240.21" y1="374.00" x2="240.21" y2="375.70" stroke="#303030" stroke-width="1.1" />
<line x1="242.63" y1="374.00" x2="242.63" y2="375.70" stroke="#303030" stroke-width="1.1" />
<line x1="244.80" y1="374.00" x2="244.80" y2="377.20" stroke="#303030" stroke-width="1.1" />
<text x="244.80" y="386.60" font-size="10" text-anchor="middle" fill="#1a1a1a" font-weight="normal"  stroke="#1a1a1a" stroke-width="0.2">100</text>
<line x1="259.07" y1="374.00" x2="259.07" y2="375.70" stroke="#303030" stroke-width="1.1" />
<text x="157.80" y="406.00" font-size="13.2" text-anchor="middle" fill="#1a1a1a" font-weight="normal"  stroke="#1a1a1a" stroke-width="0.2">Particle size (μm)</text>
<text x="27.30" y="297.50" font-size="13.0" text-anchor="middle" fill="#1a1a1a" font-weight="normal" transform="rotate(-90 27.30 297.50)"  stroke="#1a1a1a" stroke-width="0.2">Distribution (%)</text>
<line x1="159.20" y1="232.10" x2="181.60" y2="232.10" stroke="#303030" stroke-width="1.2" />
<text x="184.60" y="235.60" font-size="10" text-anchor="start" fill="#000" font-weight="normal"  stroke="#000" stroke-width="0.2">Before Filtration</text>
<line x1="159.20" y1="244.40" x2="181.60" y2="244.40" stroke="#ff2020" stroke-width="1.2" />
<text x="184.60" y="247.90" font-size="10" text-anchor="start" fill="#000" font-weight="normal"  stroke="#000" stroke-width="0.2">PFA/mesh</text>
<line x1="159.20" y1="256.60" x2="181.60" y2="256.60" stroke="#2020ff" stroke-width="1.2" />
<text x="184.60" y="260.10" font-size="10" text-anchor="start" fill="#000" font-weight="normal"  stroke="#000" stroke-width="0.2">O50-PFA/mesh</text>
<text x="272.60" y="220.50" font-size="18" text-anchor="start" fill="#000" font-weight="bold"  stroke="#000" stroke-width="0.2">(d)</text>
<rect x="322.70" y="262.35" width="15.20" height="112.95" fill="#000000" stroke="#111" stroke-width="0.8"/>
<polygon points="330.60,248.12 335.30,252.82 330.60,257.52 325.90,252.82" fill="#0000ff"/>
<rect x="361.00" y="280.25" width="15.20" height="95.05" fill="#ff0000" stroke="#111" stroke-width="0.8"/>
<polygon points="368.90,225.16 373.60,229.86 368.90,234.56 364.20,229.86" fill="#0000ff"/>
<rect x="399.30" y="269.19" width="15.20" height="106.11" fill="#008000" stroke="#111" stroke-width="0.8"/>
<polygon points="407.20,228.98 411.90,233.68 407.20,238.38 402.50,233.68" fill="#0000ff"/>
<rect x="437.60" y="275.05" width="15.20" height="100.25" fill="#8000ff" stroke="#111" stroke-width="0.8"/>
<polygon points="445.50,232.81 450.20,237.51 445.50,242.21 440.80,237.51" fill="#0000ff"/>
<rect x="475.90" y="275.05" width="15.20" height="100.25" fill="#800000" stroke="#111" stroke-width="0.8"/>
<polygon points="483.80,240.47 488.50,245.16 483.80,249.86 479.10,245.16" fill="#0000ff"/>
<line x1="310.75" y1="222.20" x2="502.40" y2="222.20" stroke="#303030" stroke-width="1.3" />
<line x1="311.40" y1="222.20" x2="311.40" y2="375.30" stroke="#303030" stroke-width="1.3" />
<line x1="310.75" y1="375.30" x2="502.40" y2="375.30" stroke="#303030" stroke-width="1.3" />
<line x1="502.40" y1="221.55" x2="502.40" y2="375.95" stroke="#2222ff" stroke-width="1.3" />
<line x1="308.20" y1="375.30" x2="311.40" y2="375.30" stroke="#303030" stroke-width="1.1" />
<text x="306.40" y="378.60" font-size="10.3" text-anchor="end" fill="#1a1a1a" font-weight="normal"  stroke="#1a1a1a" stroke-width="0.2">0</text>
<line x1="309.70" y1="359.03" x2="311.40" y2="359.03" stroke="#303030" stroke-width="1.1" />
<line x1="308.20" y1="342.75" x2="311.40" y2="342.75" stroke="#303030" stroke-width="1.1" />
<text x="306.40" y="346.05" font-size="10.3" text-anchor="end" fill="#1a1a1a" font-weight="normal"  stroke="#1a1a1a" stroke-width="0.2">1</text>
<line x1="309.70" y1="326.48" x2="311.40" y2="326.48" stroke="#303030" stroke-width="1.1" />
<line x1="308.20" y1="310.20" x2="311.40" y2="310.20" stroke="#303030" stroke-width="1.1" />
<text x="306.40" y="313.50" font-size="10.3" text-anchor="end" fill="#1a1a1a" font-weight="normal"  stroke="#1a1a1a" stroke-width="0.2">2</text>
<line x1="309.70" y1="293.93" x2="311.40" y2="293.93" stroke="#303030" stroke-width="1.1" />
<line x1="308.20" y1="277.65" x2="311.40" y2="277.65" stroke="#303030" stroke-width="1.1" />
<text x="306.40" y="280.95" font-size="10.3" text-anchor="end" fill="#1a1a1a" font-weight="normal"  stroke="#1a1a1a" stroke-width="0.2">3</text>
<line x1="309.70" y1="261.38" x2="311.40" y2="261.38" stroke="#303030" stroke-width="1.1" />
<line x1="308.20" y1="245.10" x2="311.40" y2="245.10" stroke="#303030" stroke-width="1.1" />
<text x="306.40" y="248.40" font-size="10.3" text-anchor="end" fill="#1a1a1a" font-weight="normal"  stroke="#1a1a1a" stroke-width="0.2">4</text>
<line x1="309.70" y1="228.83" x2="311.40" y2="228.83" stroke="#303030" stroke-width="1.1" />
<line x1="499.20" y1="375.30" x2="502.40" y2="375.30" stroke="#2222ff" stroke-width="1.1" />
<text x="506.20" y="378.90" font-size="10.3" text-anchor="start" fill="#2222ff" font-weight="normal"  stroke="#2222ff" stroke-width="0.2">0.0</text>
<line x1="500.70" y1="356.16" x2="502.40" y2="356.16" stroke="#2222ff" stroke-width="1.1" />
<line x1="499.20" y1="337.03" x2="502.40" y2="337.03" stroke="#2222ff" stroke-width="1.1" />
<text x="506.20" y="340.63" font-size="10.3" text-anchor="start" fill="#2222ff" font-weight="normal"  stroke="#2222ff" stroke-width="0.2">0.1</text>
<line x1="500.70" y1="317.89" x2="502.40" y2="317.89" stroke="#2222ff" stroke-width="1.1" />
<line x1="499.20" y1="298.75" x2="502.40" y2="298.75" stroke="#2222ff" stroke-width="1.1" />
<text x="506.20" y="302.35" font-size="10.3" text-anchor="start" fill="#2222ff" font-weight="normal"  stroke="#2222ff" stroke-width="0.2">0.2</text>
<line x1="500.70" y1="279.61" x2="502.40" y2="279.61" stroke="#2222ff" stroke-width="1.1" />
<line x1="499.20" y1="260.48" x2="502.40" y2="260.48" stroke="#2222ff" stroke-width="1.1" />
<text x="506.20" y="264.08" font-size="10.3" text-anchor="start" fill="#2222ff" font-weight="normal"  stroke="#2222ff" stroke-width="0.2">0.3</text>
<line x1="500.70" y1="241.34" x2="502.40" y2="241.34" stroke="#2222ff" stroke-width="1.1" />
<line x1="499.20" y1="222.20" x2="502.40" y2="222.20" stroke="#2222ff" stroke-width="1.1" />
<text x="506.20" y="225.80" font-size="10.3" text-anchor="start" fill="#2222ff" font-weight="normal"  stroke="#2222ff" stroke-width="0.2">0.4</text>
<text x="532.10" y="295.60" font-size="13.1" text-anchor="middle" fill="#2222ff" font-weight="normal" transform="rotate(-90 532.10 295.60)" dominant-baseline="central" stroke="#2222ff" stroke-width="0.2">Pressure drop (bar)</text>
<text x="289.6" y="296.1" font-size="13.2" text-anchor="middle" fill="#1a1a1a" stroke="#1a1a1a" stroke-width="0.2" transform="rotate(-90 289.6 296.1)">Permeability (10<tspan font-size="7.8" dy="-5.2">-13</tspan><tspan dy="5.2"> m</tspan><tspan font-size="7.8" dy="-5.2">2</tspan><tspan dy="5.2">)</tspan></text>
<text x="307.30" y="389.60" font-size="9.75" text-anchor="start" fill="#1a1a1a" font-weight="normal" transform="rotate(17.2 307.30 389.60)"  stroke="#1a1a1a" stroke-width="0.2">Stainless-steel mesh</text>
<text x="345.95" y="389.60" font-size="9.75" text-anchor="start" fill="#1a1a1a" font-weight="normal" transform="rotate(17.2 345.95 389.60)"  stroke="#1a1a1a" stroke-width="0.2">PFA/mesh</text>
<text x="384.60" y="389.60" font-size="9.75" text-anchor="start" fill="#1a1a1a" font-weight="normal" transform="rotate(17.2 384.60 389.60)"  stroke="#1a1a1a" stroke-width="0.2">O10-PFA/mesh</text>
<text x="423.25" y="389.60" font-size="9.75" text-anchor="start" fill="#1a1a1a" font-weight="normal" transform="rotate(17.2 423.25 389.60)"  stroke="#1a1a1a" stroke-width="0.2">O30-PFA/mesh</text>
<text x="461.90" y="389.60" font-size="9.75" text-anchor="start" fill="#1a1a1a" font-weight="normal" transform="rotate(17.2 461.90 389.60)"  stroke="#1a1a1a" stroke-width="0.2">O50-PFA/mesh</text>
</svg></body></html>
